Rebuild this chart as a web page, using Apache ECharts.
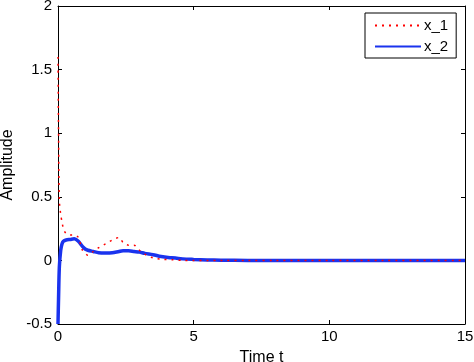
<!DOCTYPE html>
<html><head><meta charset="utf-8">
<script src="https://cdn.jsdelivr.net/npm/echarts@6/dist/echarts.min.js"></script>
<style>html,body{margin:0;padding:0;background:#fff}#c{width:474px;height:362px}</style>
</head><body><div id="c"></div>
<script>
const seriesNames = ['x_1', 'x_2'];
const timeT = [0,0.02,0.05,0.1,0.15,0.2,0.3,0.45,0.6,0.75,0.9,1.0,1.1,1.3,1.5,1.75,2.0,2.25,2.4,2.6,2.8,3.0,3.2,3.5,3.8,4.2,4.6,5,5.5,6,7,8,10,12,15];
const x1 = [1.6,1.0,0.47,0.36,0.3,0.25,0.21,0.2,0.2,0.18,0.08,0.06,0.04,0.07,0.1,0.13,0.16,0.18,0.14,0.12,0.12,0.08,0.05,0.02,0.01,0.005,0,0,0,0,0,0,0,0,0];
const x2 = [-0.5,-0.3,-0.05,0.08,0.13,0.15,0.16,0.165,0.17,0.15,0.11,0.09,0.08,0.07,0.06,0.058,0.06,0.07,0.075,0.075,0.07,0.065,0.055,0.045,0.03,0.02,0.012,0.008,0.004,0.002,0,0,0,0,0];
const xTicks = [0,5,10,15];
const yTicks = [-0.5,0,0.5,1,1.5,2];

const font = 'Liberation Sans, Arial, sans-serif';
const pairs = (ys) => timeT.map((t, i) => [t, ys[i]]);
const chart = echarts.init(document.getElementById('c'));
const axisLine = {show: true, onZero: false, lineStyle: {color: '#000', width: 1}};
const tick = {show: true, inside: true, length: 4, lineStyle: {color: '#000'}};
chart.setOption({
  animation: false,
  grid: {left: 58, right: 9, top: 6, bottom: 38, outerBoundsMode: 'none', containLabel: false},
  legend: {
    orient: 'vertical', left: 365, top: 13,
    data: seriesNames,
    itemWidth: 46, itemHeight: 10, itemGap: 6,
    padding: [5, 8, 4, 9],
    borderColor: '#000', borderWidth: 1, backgroundColor: '#fff',
    itemStyle: {opacity: 0},
    textStyle: {fontFamily: font, fontSize: 15, color: '#000', padding: [0,0,0,-2]}
  },
  xAxis: [{
    type: 'value', min: 0, max: 15, interval: 5,
    name: 'Time t', nameLocation: 'middle', nameGap: 26,
    nameTextStyle: {fontFamily: font, fontSize: 16, color: '#000'},
    axisLine, axisTick: tick, splitLine: {show: false},
    axisLabel: {fontFamily: font, fontSize: 15, color: '#000', margin: 5,
      formatter: v => xTicks.includes(v) ? String(v) : ''}
  }, {
    type: 'value', position: 'top', min: 0, max: 15, interval: 5,
    axisLine, axisTick: tick, axisLabel: {show: false}, splitLine: {show: false}
  }],
  yAxis: [{
    type: 'value', min: -0.5, max: 2, interval: 0.5,
    name: 'Amplitude', nameLocation: 'middle', nameGap: 42, nameRotate: 90,
    nameTextStyle: {fontFamily: font, fontSize: 16, color: '#000'},
    axisLine, axisTick: tick, splitLine: {show: false},
    axisLabel: {fontFamily: font, fontSize: 15, color: '#000', margin: 6,
      formatter: v => yTicks.includes(v) ? String(v) : ''}
  }, {
    type: 'value', position: 'right', min: -0.5, max: 2, interval: 0.5,
    axisLine, axisTick: tick, axisLabel: {show: false}, splitLine: {show: false}
  }],
  series: [{
    name: seriesNames[0], type: 'line', data: pairs(x1), symbol: 'none', smooth: 0.3,
    lineStyle: {color: '#ff0000', width: 1.5, type: [2, 5]}, itemStyle: {color: '#ff0000'}, z: 3
  }, {
    name: seriesNames[1], type: 'line', data: pairs(x2), symbol: 'none', smooth: 0.3,
    lineStyle: {color: '#1a33ee', width: 3.5}, itemStyle: {color: '#1a33ee'}, z: 2
  }]
});
</script></body></html>
